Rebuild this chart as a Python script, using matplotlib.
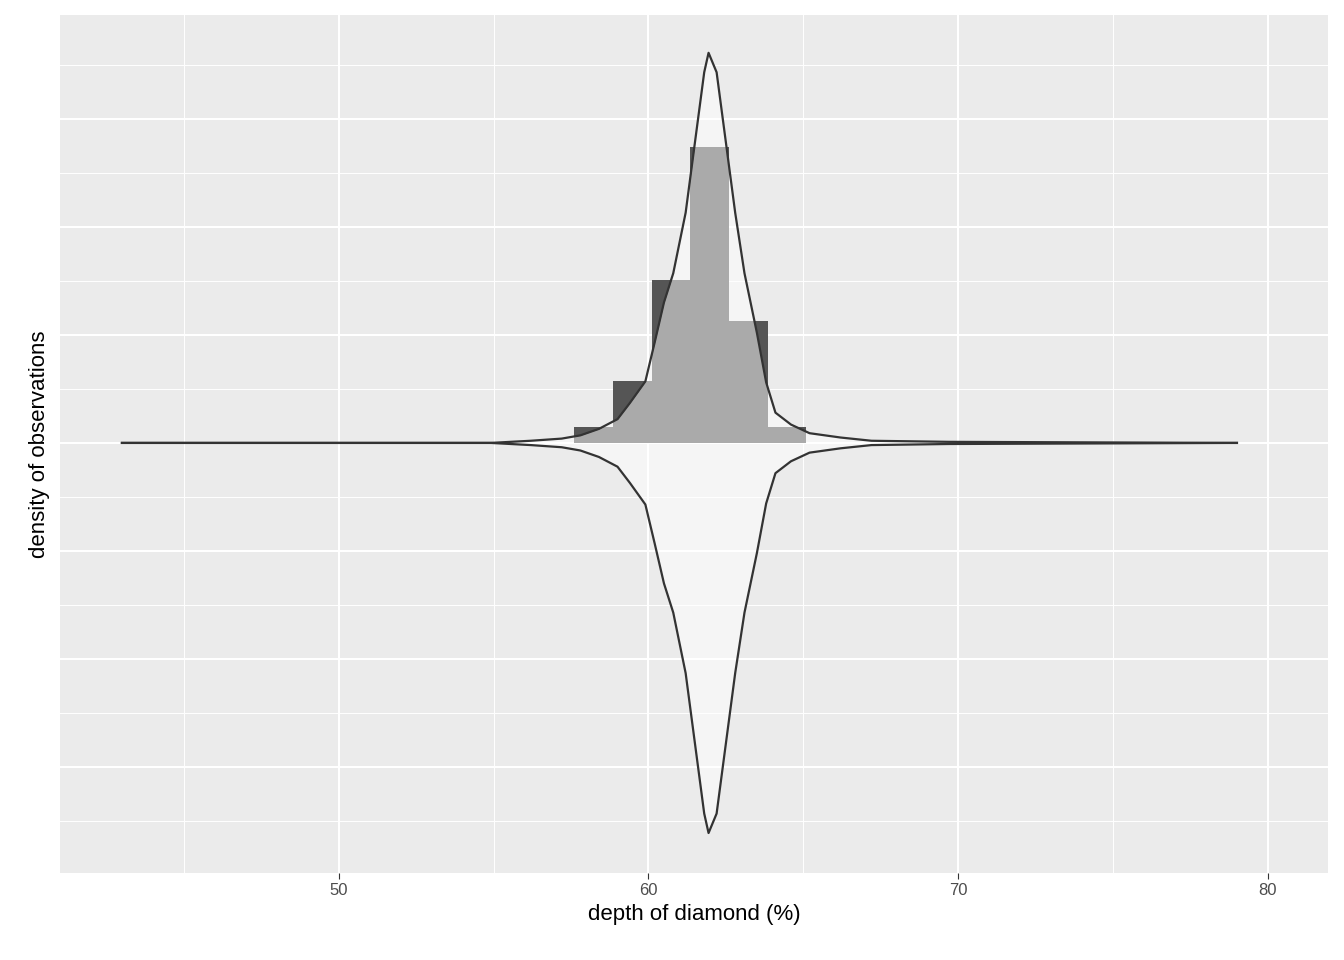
import numpy as np
from matplotlib import pyplot as plt

plt.rcParams['font.family'] = ['Liberation Sans', 'DejaVu Sans']

# histogram of depth (bin edges and density heights)
bin_edges = [57.6, 58.85, 60.1, 61.35, 62.6, 63.85, 65.1]
bin_heights = [0.015, 0.057, 0.151, 0.274, 0.113, 0.015]

# density curve
dens_x = [43.0, 54.9, 56.2, 57.2, 57.8, 58.4, 59.0, 59.4, 59.9, 60.2, 60.5, 60.8,
          61.2, 61.5, 61.8, 61.94, 62.2, 62.5, 62.8, 63.1, 63.5, 63.8, 64.1, 64.6,
          65.2, 66.2, 67.2, 69.7, 79.0]
dens_y = [0.0, 0.0, 0.002, 0.004, 0.007, 0.013, 0.022, 0.037, 0.057, 0.093, 0.130,
          0.157, 0.213, 0.278, 0.343, 0.361, 0.343, 0.278, 0.213, 0.157, 0.102,
          0.056, 0.028, 0.017, 0.009, 0.005, 0.002, 0.001, 0.0]


fig = plt.figure(figsize=(13.44, 9.6), dpi=100)
ax = fig.add_axes([60/1344, 87/960, 1268/1344, 858/960])
ax.set_facecolor('#ebebeb')

x = np.array(dens_x)
y = np.array(dens_y)
w = np.diff(bin_edges)
ax.bar(bin_edges[:-1], bin_heights, width=w, align='edge', color='#555555', zorder=2)
ax.fill_between(x, 0, y, color='white', alpha=0.5, lw=0, zorder=3)
ax.plot(x, y, color='#333333', lw=1.6, zorder=4)
ax.fill_between(x, 0, -y, color='white', alpha=0.5, lw=0, zorder=3)
ax.plot(x, -y, color='#333333', lw=1.6, zorder=4)

ax.set_xlim(41.0, 81.94)
ax.set_ylim(-0.398, 0.396)
ax.set_xticks([50, 60, 70, 80])
ax.set_xticks([45, 55, 65, 75], minor=True)
ax.set_yticks([-0.3, -0.2, -0.1, 0, 0.1, 0.2, 0.3])
ax.set_yticks([-0.35, -0.25, -0.15, -0.05, 0.05, 0.15, 0.25, 0.35], minor=True)
ax.set_yticklabels([])
ax.grid(which='major', color='white', lw=1.5, zorder=0)
ax.grid(which='minor', color='white', lw=0.7, zorder=0)
ax.set_axisbelow(True)
for s in ax.spines.values():
    s.set_visible(False)
ax.tick_params(axis='x', which='major', length=4, color='#333333', labelsize=12, labelcolor='#4d4d4d')
ax.tick_params(axis='y', which='major', length=0)
ax.tick_params(which='minor', length=0)
ax.set_xlabel('depth of diamond (%)', fontsize=16)
ax.set_ylabel('density of observations', fontsize=16)

fig.savefig('out.png', dpi=100)
plt.close()
